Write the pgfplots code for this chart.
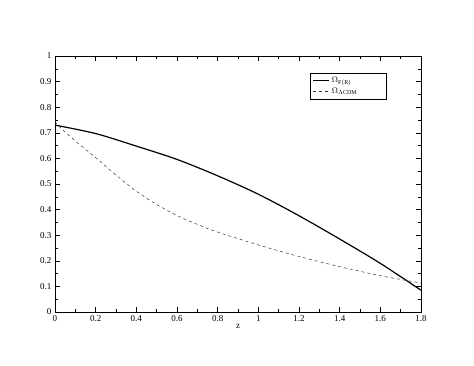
\documentclass[border=0pt]{standalone}
\usepackage{fontspec}
\setmainfont{Liberation Serif}
\usepackage{pgfplots}
\pgfplotsset{compat=1.18}
\begin{document}
\begin{tikzpicture}[x=1pt,y=1pt]
\path[use as bounding box] (0,0) rectangle (474,366);
\begin{axis}[
  at={(55pt,54pt)}, anchor=south west,
  scale only axis, width=366pt, height=256pt,
  xmin=0, xmax=1.8, ymin=0, ymax=1,
  xtick={0,0.2,...,1.8}, ytick={0,0.1,...,1},
  minor x tick num=1, minor y tick num=1,
  tick align=inside,
  major tick length=5pt, minor tick length=3pt,
  tick style={black, line width=0.5pt},
  axis line style={line width=0.6pt},
  xticklabel style={font=\fontsize{9}{10}\selectfont, /pgf/number format/fixed},
  yticklabel style={font=\fontsize{9}{10}\selectfont, /pgf/number format/fixed},
  /pgf/number format/assume math mode=true,
  xlabel={z}, xlabel style={font=\fontsize{9}{10}\selectfont, yshift=4pt},
  legend style={at={(0.698,0.934)}, anchor=north west, font=\fontsize{8.5}{9}\selectfont,
    draw=black, line width=0.5pt, inner xsep=2pt, inner ysep=2pt, row sep=0pt},
  legend image code/.code={\draw[#1] (0pt,0pt) -- (16pt,0pt);},
  legend cell align=left,
]
\addplot[black, line width=1.2pt, smooth] coordinates {
(0,0.730) (0.2,0.697) (0.4,0.648) (0.6,0.596) (0.8,0.532) (1.0,0.460)
(1.2,0.376) (1.4,0.285) (1.6,0.190) (1.8,0.085)};
\addlegendentry{\makebox[50pt][l]{$\Omega_{\mathrm{F(R)}}$}}
\addplot[black!80, line width=0.5pt, dashed, smooth] coordinates {
(0,0.745) (0.02,0.725) (0.1,0.668) (0.2,0.603) (0.3,0.535) (0.4,0.472) (0.5,0.420)
(0.6,0.377) (0.7,0.342) (0.8,0.312) (1.0,0.262) (1.2,0.217) (1.4,0.177) (1.6,0.142) (1.8,0.113)};
\addlegendentry{\makebox[50pt][l]{$\Omega_{\Lambda\mathrm{CDM}}$}}
\end{axis}
\end{tikzpicture}
\end{document}
